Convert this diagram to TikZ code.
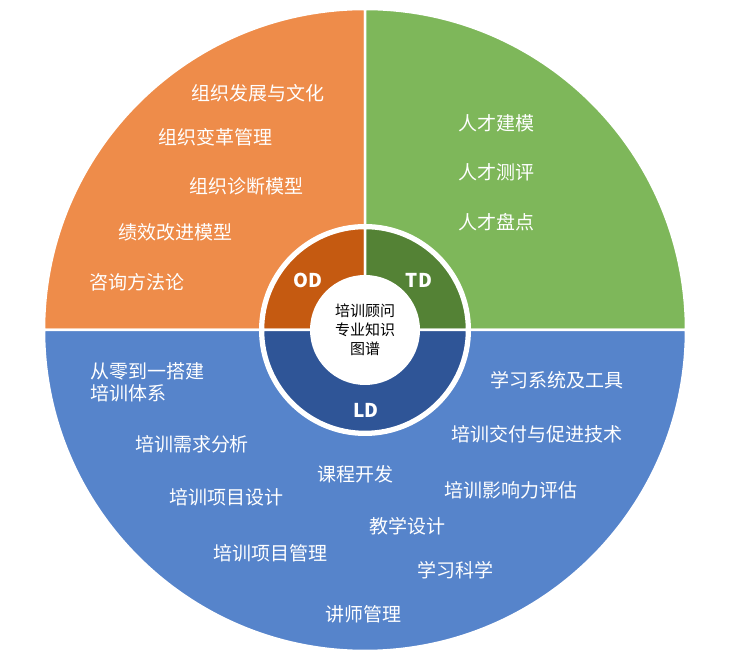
\documentclass[tikz,border=0pt]{standalone}
\usepackage{fontspec}
\setmainfont{Noto Sans CJK SC}
\begin{document}
\begin{tikzpicture}[x=1pt,y=1pt,
  lab/.style={text=white,font=\fontsize{19}{22}\selectfont,inner sep=0pt},
  ring/.style={text=white,font=\bfseries\fontsize{19}{22}\selectfont,inner sep=0pt}]
\definecolor{od}{HTML}{EE8C4A}\definecolor{td}{HTML}{7EB75A}\definecolor{ld}{HTML}{5684CB}
\definecolor{odd}{HTML}{C55A11}\definecolor{tdd}{HTML}{548235}\definecolor{ldd}{HTML}{2F5597}
\useasboundingbox (0,0) rectangle (756,661);
\coordinate (c) at (365,331);
\def\R{321}\def\r{106}\def\q{55}
\fill[od,draw=white,line width=2.5pt] (c) -- ++(90:\R) arc (90:180:\R) -- cycle;
\fill[td,draw=white,line width=2.5pt] (c) -- ++(0:\R) arc (0:90:\R) -- cycle;
\fill[ld,draw=white,line width=2.5pt] (c) -- ++(180:\R) arc (180:360:\R) -- cycle;
\fill[white] (c) circle (\r);
\fill[odd,draw=white,line width=2.5pt] (c) -- ++(90:\r-4) arc (90:180:\r-4) -- cycle;
\fill[tdd,draw=white,line width=2.5pt] (c) -- ++(0:\r-4) arc (0:90:\r-4) -- cycle;
\fill[ldd,draw=white,line width=2.5pt] (c) -- ++(180:\r-4) arc (180:360:\r-4) -- cycle;
\node[fill=white,circle,minimum size=2*\q pt,inner sep=0pt,align=center,font=\fontsize{15}{19}\selectfont] (ctr) at (c) {培训顾问\\专业知识\\图谱};
\node[ring] (OD) at (308,381) {OD};
\node[ring] (TD) at (419,381) {TD};
\node[ring] (LD) at (366,251) {LD};
\node[lab] (a1) at (258,568) {组织发展与文化};
\node[lab] (a2) at (215,524) {组织变革管理};
\node[lab] (a3) at (246,475) {组织诊断模型};
\node[lab] (a4) at (175,429) {绩效改进模型};
\node[lab] (a5) at (137,379) {咨询方法论};
\node[lab] (b1) at (496,538) {人才建模};
\node[lab] (b2) at (496,489) {人才测评};
\node[lab] (b3) at (496,439) {人才盘点};
\node[lab,align=left,anchor=west] (c1) at (90,279) {从零到一搭建\\培训体系};
\node[lab] (c2) at (192,217) {培训需求分析};
\node[lab] (c3) at (226,164) {培训项目设计};
\node[lab] (c4) at (355,187) {课程开发};
\node[lab] (c5) at (270,108) {培训项目管理};
\node[lab] (c6) at (407,135) {教学设计};
\node[lab] (c7) at (455,91) {学习科学};
\node[lab] (c8) at (363,47) {讲师管理};
\node[lab] (c9) at (557,281) {学习系统及工具};
\node[lab] (c10) at (537,227) {培训交付与促进技术};
\node[lab] (c11) at (511,171) {培训影响力评估};
\end{tikzpicture}
\end{document}
